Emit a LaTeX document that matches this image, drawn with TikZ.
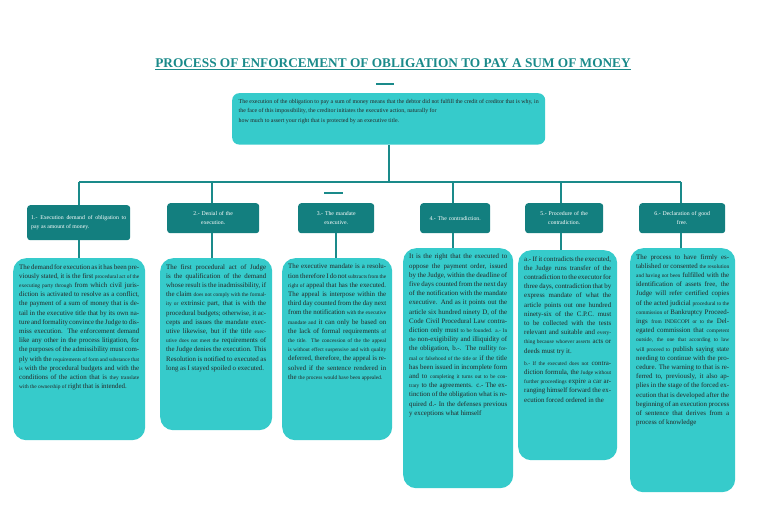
\documentclass[tikz,border=0pt]{standalone}
\usepackage{fontspec}
\setmainfont{Liberation Serif}
\definecolor{teal1}{HTML}{36CBCB}
\definecolor{teal2}{HTML}{137F7F}
\definecolor{linec}{HTML}{1A8A8A}
\newcommand{\bxt}[3]{\begin{minipage}[t][#1][t]{#2}\fontsize{6.9}{9.2}\selectfont #3\end{minipage}}
\newcommand{\sm}[1]{{\fontsize{5.4}{9.2}\selectfont #1}}
\begin{document}
\begin{tikzpicture}[x=1pt,y=-1pt,
  hdr/.style={draw=none,fill=teal2,rounded corners=3pt,text=white,font=\fontsize{5.8}{9}\selectfont,align=center,anchor=north west,inner sep=2pt},
  body/.style={draw=none,fill=teal1,rounded corners=13pt,anchor=north west,inner sep=6pt,text=black!85},
  conn/.style={draw=linec,line width=1.2pt}]
\useasboundingbox (0,0) rectangle (768,525);
\node[font=\bfseries\fontsize{13.3}{15}\selectfont,text=linec] (title) at (393,64) {\underline{PROCESS OF ENFORCEMENT OF OBLIGATION TO PAY A SUM OF MONEY}};
\coordinate (d1) at (376,84); \coordinate (d2) at (394,84);
\draw[conn,line width=1.5pt] (d1) -- (d2);
\node[draw=none,fill=teal1,rounded corners=7pt,anchor=north west,minimum width=313pt,minimum height=47pt,text width=300pt,align=justify,font=\fontsize{5.9}{9.4}\selectfont,inner sep=6pt,text=black!85] (top) at (232,93) {The execution of the obligation to pay a sum of money means that the debtor did not fulfill the credit of creditor that is why, in the face of this impossibility, the creditor initiates the executive action, naturally for\newline how much to assert your right that is protected by an executive title.\\[7pt]};
% headers
\node[hdr,minimum width=103pt,minimum height=35pt,text width=95pt,align=justify] (h1) at (27,205) {1.- Execution demand of obligation to pay as amount of money.};
\node[hdr,minimum width=92pt,minimum height=30pt,text width=80pt] (h2) at (167,203) {2.- Denial of the\\ execution.};
\node[hdr,minimum width=76pt,minimum height=30pt,text width=70pt] (h3) at (298,203) {3.- The mandate\\ executive.};
\node[hdr,minimum width=69pt,minimum height=30pt,text width=66pt] (h4) at (420,203) {4.- The contradiction.};
\node[hdr,minimum width=78pt,minimum height=30pt,text width=74pt] (h5) at (525,203) {5.- Procedure of the\\ contradiction.};
\node[hdr,minimum width=86pt,minimum height=30pt,text width=80pt] (h6) at (639,203) {6.- Declaration of good\\ free.};
% connectors
\coordinate (bl) at (79,182); \coordinate (br) at (681,182); \coordinate (tj) at (389,182);
\draw[conn] (top.south -| tj) -- (tj);
\draw[conn] (bl) -- (br);
\coordinate (c2) at (212,182); \coordinate (c4) at (453,182); \coordinate (c5) at (561,182);
\draw[conn] (bl) -- (bl |- h1.north);
\draw[conn] (c2) -- (c2 |- h2.north);
\draw[conn] (c4) -- (c4 |- h4.north);
\draw[conn] (c5) -- (c5 |- h5.north);
\draw[conn] (br) -- (br |- h6.north);
\coordinate (m1) at (324,193); \coordinate (m2) at (343,193);
\draw[conn] (m1) -- (m2);
% bodies
\node[body] (b1) at (13,258) {\bxt{170pt}{120pt}{The demand for execution as it has been previously stated, it is the first \sm{procedural act of the executing party through} from which civil jurisdiction is activated to resolve as a conflict, the payment of a sum of money that is detail in the executive title that by its own nature and formality convince the Judge to dismiss execution. The enforcement demand like any other in the process litigation, for the purposes of the admissibility must comply with the \sm{requirements of form and substance that is} with the procedural budgets and with the conditions of the action that is \sm{they translate with the ownership of} right that is intended.}};
\node[body] (b2) at (160,258) {\bxt{160pt}{100pt}{The first procedural act of Judge is the qualification of the demand whose result is the inadmissibility, if the claim \sm{does not comply with the formality or} extrinsic part, that is with the procedural budgets; otherwise, it accepts and issues the mandate executive likewise, but if the title \sm{executive does not meet the} requirements of the Judge denies the execution. This Resolution is notified to executed as long as I stayed spoiled o executed.}};
\node[body] (b3) at (282,258) {\bxt{170pt}{98pt}{The executive mandate is a resolution therefore I do not \sm{subtracts from the right of} appeal that has the executed. The appeal is interpose within the third day counted from the day next from the notification \sm{with the executive mandate and} it can only be based on the lack of formal requirements \sm{of the title. The concession of the the appeal is without effect suspensive and with quality} deferred, therefore, the appeal is resolved if the sentence rendered in the \sm{the process would have been appealed.}}};
\node[body] (b4) at (403,248) {\bxt{228pt}{98pt}{It is the right that the executed to oppose the payment order, issued by the Judge, within the deadline of five days counted from the next day of the notification with the mandate executive. And as it points out the article six hundred ninety D, of the Code Civil Procedural Law contradiction only must \sm{to be founded. a.- In the} non-exigibility and illiquidity of the obligation, b.-. The nullity \sm{formal or falsehood of the title or} if the title has been issued in incomplete form and to \sm{completing it turns out to be contrary} to the agreements. c.- The extinction of the obligation what is required d.- In the defenses previous y exceptions what himself}};
\node[body] (b5) at (518,250) {\bxt{198pt}{87pt}{a.- If it contradicts the executed, the Judge runs transfer of the contradiction to the executor for three days, contradiction that by express mandate of what the article points out one hundred ninety-six of the C.P.C. must to be collected with the tests relevant and suitable and \sm{everything because whoever asserts} acts or deeds must try it.\par\smallskip \sm{b.- If the executed does not} contradiction formula, the \sm{Judge without further proceedings} expire a car arranging himself forward the execution forced ordered in the}};
\node[body] (b6) at (630,248) {\bxt{232pt}{93pt}{The process to have firmly established or consented \sm{the resolution and having not been} fulfilled with the identification of assets free, the Judge will refer certified copies of the acted judicial \sm{procedural to the commission of} Bankruptcy Proceedings \sm{from INDECOPI or to the} Delegated commission that \sm{competent outside, the one that according to law will proceed to} publish saying state needing to continue with the procedure. The warning to that is referred to, previously, it also applies in the stage of the forced execution that is developed after the beginning of an execution process of sentence that derives from a process of knowledge}};
\draw[conn] (h1.south -| bl) -- (b1.north -| bl);
\draw[conn] (h2.south -| c2) -- (b2.north -| c2);
\coordinate (c3) at (336,182);
\draw[conn] (h3.south -| c3) -- (b3.north -| c3);
\draw[conn] (h4.south -| c4) -- (b4.north -| c4);
\draw[conn] (h5.south -| c5) -- (b5.north -| c5);
\draw[conn] (h6.south -| br) -- (b6.north -| br);
\end{tikzpicture}
\end{document}
